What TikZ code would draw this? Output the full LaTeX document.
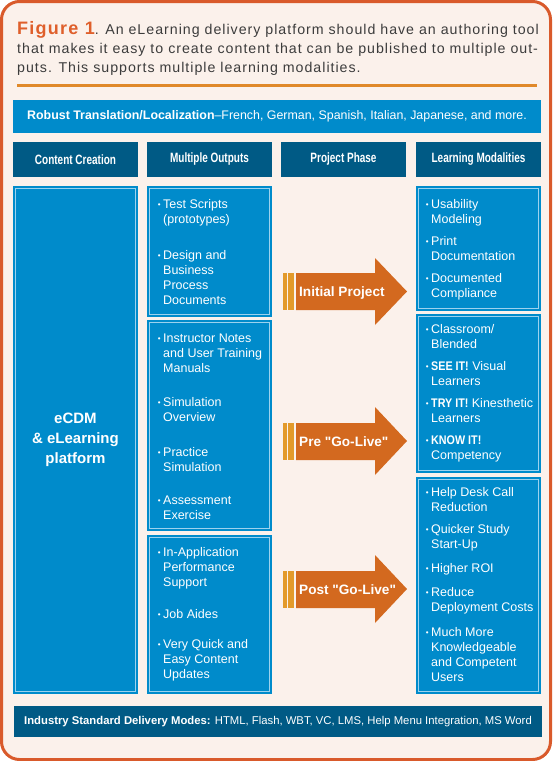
\documentclass[tikz,border=0pt]{standalone}
\usepackage{fontspec}
\setmainfont{Liberation Sans}
\newfontfamily\condfont{Liberation Sans}[FakeStretch=0.74]
\newfontfamily\narrowfont{Liberation Sans}[FakeStretch=0.86]
\newfontfamily\capfont{Liberation Sans}[LetterSpace=7]
\usepackage{tikz}

\definecolor{cream}{HTML}{FBF1EB}
\definecolor{frameorange}{HTML}{D95A2B}
\definecolor{ruleamber}{HTML}{E0892A}
\definecolor{boxblue}{HTML}{008BCB}
\definecolor{headblue}{HTML}{005A85}
\definecolor{lineblue}{HTML}{9CD2EE}
\definecolor{arroworange}{HTML}{D3691F}
\definecolor{stripeamber}{HTML}{E39A2A}
\definecolor{textgray}{HTML}{3C3C3C}
\definecolor{figorange}{HTML}{DF5F2B}

\newcommand\bul{{\fontsize{8}{8}\selectfont\raisebox{1pt}{\textbullet}}}
\newcommand\itm[1]{\parbox[t]{118pt}{\raggedright\leavevmode\llap{\bul\hspace{2.5pt}}#1}}
\newcommand\hit[1]{{\narrowfont\bfseries #1}}

\tikzset{
  bluebox/.style={fill=boxblue, draw=lineblue, line width=.8pt,
    preaction={draw=boxblue, line width=5pt}, inner sep=0pt},
  headbox/.style={fill=headblue, minimum width=125pt, minimum height=35pt,
    inner sep=0pt, text=white, font=\condfont\bfseries\fontsize{13.5}{14}\selectfont},
  banner/.style={fill=#1, minimum width=528pt, inner sep=0pt, text=white},
  item/.style={anchor=base west, inner sep=0pt, text=white,
    font=\fontsize{12.5}{15.3}\selectfont},
  phase/.style={anchor=base west, inner sep=0pt, text=white,
    font=\bfseries\fontsize{13.6}{14}\selectfont},
  phasearrow/.style={fill=arroworange},
  stripe/.style={fill=stripeamber}
}

\begin{document}
\begin{tikzpicture}[x=1pt,y=-1pt]
    \useasboundingbox (0,0) rectangle (554,761);
    \draw[frameorange, line width=3pt, fill=cream, rounded corners=18pt] (1.5,1.5) rectangle (550.5,759.5);

    % caption
    \node[anchor=base west, inner sep=0pt, text=textgray, font=\capfont\fontsize{14.2}{19}\selectfont] (cap) at (17,34)
      {\parbox[t]{530pt}{\raggedright\leavevmode{\color{figorange}\fontsize{18}{19}\selectfont\bfseries Figure 1}. An eLearning delivery platform should have an authoring tool\\that makes it easy to create content that can be published to multiple out-\\puts. This supports multiple learning modalities.}};
    \draw[ruleamber, line width=3pt] (17,85.5) -- (537,85.5);

    % banners
    \node[banner=boxblue, minimum height=33pt, font=\fontsize{12.4}{14}\selectfont] (trans) at (277,116.5)
      {{\bfseries Robust Translation/Localization}--French, German, Spanish, Italian, Japanese, and more.};
    \node[banner=headblue, minimum height=31pt, font=\fontsize{11.3}{14}\selectfont] (modes) at (278,721.5)
      {{\bfseries Industry Standard Delivery Modes:} HTML, Flash, WBT, VC, LMS, Help Menu Integration, MS Word};

    % column heads
    \node[headbox] (hcc) at (75.5,159.5) {Content Creation};
    \node[headbox] (hmo) at (209.5,159.5) {Multiple Outputs};
    \node[headbox] (hpp) at (343.5,159.5) {Project Phase};
    \node[headbox] (hlm) at (478.5,159.5) {Learning Modalities};

    % boxes
    \node[bluebox, minimum width=120pt, minimum height=503pt, text=white, align=center,
      font=\bfseries\fontsize{15}{20}\selectfont] (ecdm) at (75.5,440) {eCDM\\\& eLearning\\platform};
    \node[bluebox, minimum width=120pt, minimum height=126pt] (out1) at (209.5,251.5) {};
    \node[bluebox, minimum width=120pt, minimum height=206pt] (out2) at (209.5,425.5) {};
    \node[bluebox, minimum width=120pt, minimum height=154pt] (out3) at (209.5,614.5) {};
    \node[bluebox, minimum width=120pt, minimum height=120pt] (mod1) at (478.5,248.5) {};
    \node[bluebox, minimum width=120pt, minimum height=154pt] (mod2) at (478.5,393.5) {};
    \node[bluebox, minimum width=120pt, minimum height=212pt] (mod3) at (478.5,585.5) {};

    % outputs
    \node[item] (o1) at (163,208) {\itm{Test Scripts\\(prototypes)}};
    \node[item] (o2) at (163,259) {\itm{Design and\\Business\\Process\\Documents}};
    \node[item] (o3) at (163,342) {\itm{Instructor Notes\\and User Training\\Manuals}};
    \node[item] (o4) at (163,406) {\itm{Simulation\\Overview}};
    \node[item] (o5) at (163,456) {\itm{Practice\\Simulation}};
    \node[item] (o6) at (163,504) {\itm{Assessment\\Exercise}};
    \node[item] (o7) at (163,556) {\itm{In-Application\\Performance\\Support}};
    \node[item] (o8) at (163,618) {\itm{Job Aides}};
    \node[item] (o9) at (163,648) {\itm{Very Quick and\\Easy Content\\Updates}};

    % modalities
    \node[item] (m1) at (431,208) {\itm{Usability\\Modeling}};
    \node[item] (m2) at (431,245) {\itm{Print\\Documentation}};
    \node[item] (m3) at (431,282) {\itm{Documented\\Compliance}};
    \node[item] (m4) at (431,333) {\itm{Classroom/\\Blended}};
    \node[item] (m5) at (431,370) {\itm{\hit{SEE IT!} Visual\\Learners}};
    \node[item] (m6) at (431,407) {\itm{\hit{TRY IT!} Kinesthetic\\Learners}};
    \node[item] (m7) at (431,444) {\itm{\hit{KNOW IT!}\\Competency}};
    \node[item] (m8) at (431,496) {\itm{Help Desk Call\\Reduction}};
    \node[item] (m9) at (431,533) {\itm{Quicker Study\\Start-Up}};
    \node[item] (m10) at (431,572) {\itm{Higher ROI}};
    \node[item] (m11) at (431,596) {\itm{Reduce\\Deployment Costs}};
    \node[item] (m12) at (431,636) {\itm{Much More\\Knowledgeable\\and Competent\\Users}};

    % phase arrows
    \fill[stripe] (283,273) rectangle (287,310);
    \fill[stripe] (288,273) rectangle (294,310);
    \fill[phasearrow] (296,273) -- (375,273) -- (375,258) -- (407,291.5) -- (375,325) -- (375,310) -- (296,310) -- cycle;
    \node[phase] (ini) at (299,296.5) {Initial Project};

    \fill[stripe] (283,423) rectangle (287,460);
    \fill[stripe] (288,423) rectangle (294,460);
    \fill[phasearrow] (296,423) -- (375,423) -- (375,407) -- (407,441) -- (375,475) -- (375,460) -- (296,460) -- cycle;
    \node[phase] (pre) at (299,446) {Pre \textquotedbl Go-Live\textquotedbl};

    \fill[stripe] (283,571) rectangle (287,608);
    \fill[stripe] (288,571) rectangle (294,608);
    \fill[phasearrow] (296,571) -- (375,571) -- (375,555) -- (407,589) -- (375,623) -- (375,608) -- (296,608) -- cycle;
    \node[phase] (post) at (299,594) {Post \textquotedbl Go-Live\textquotedbl};
\end{tikzpicture}
\end{document}
